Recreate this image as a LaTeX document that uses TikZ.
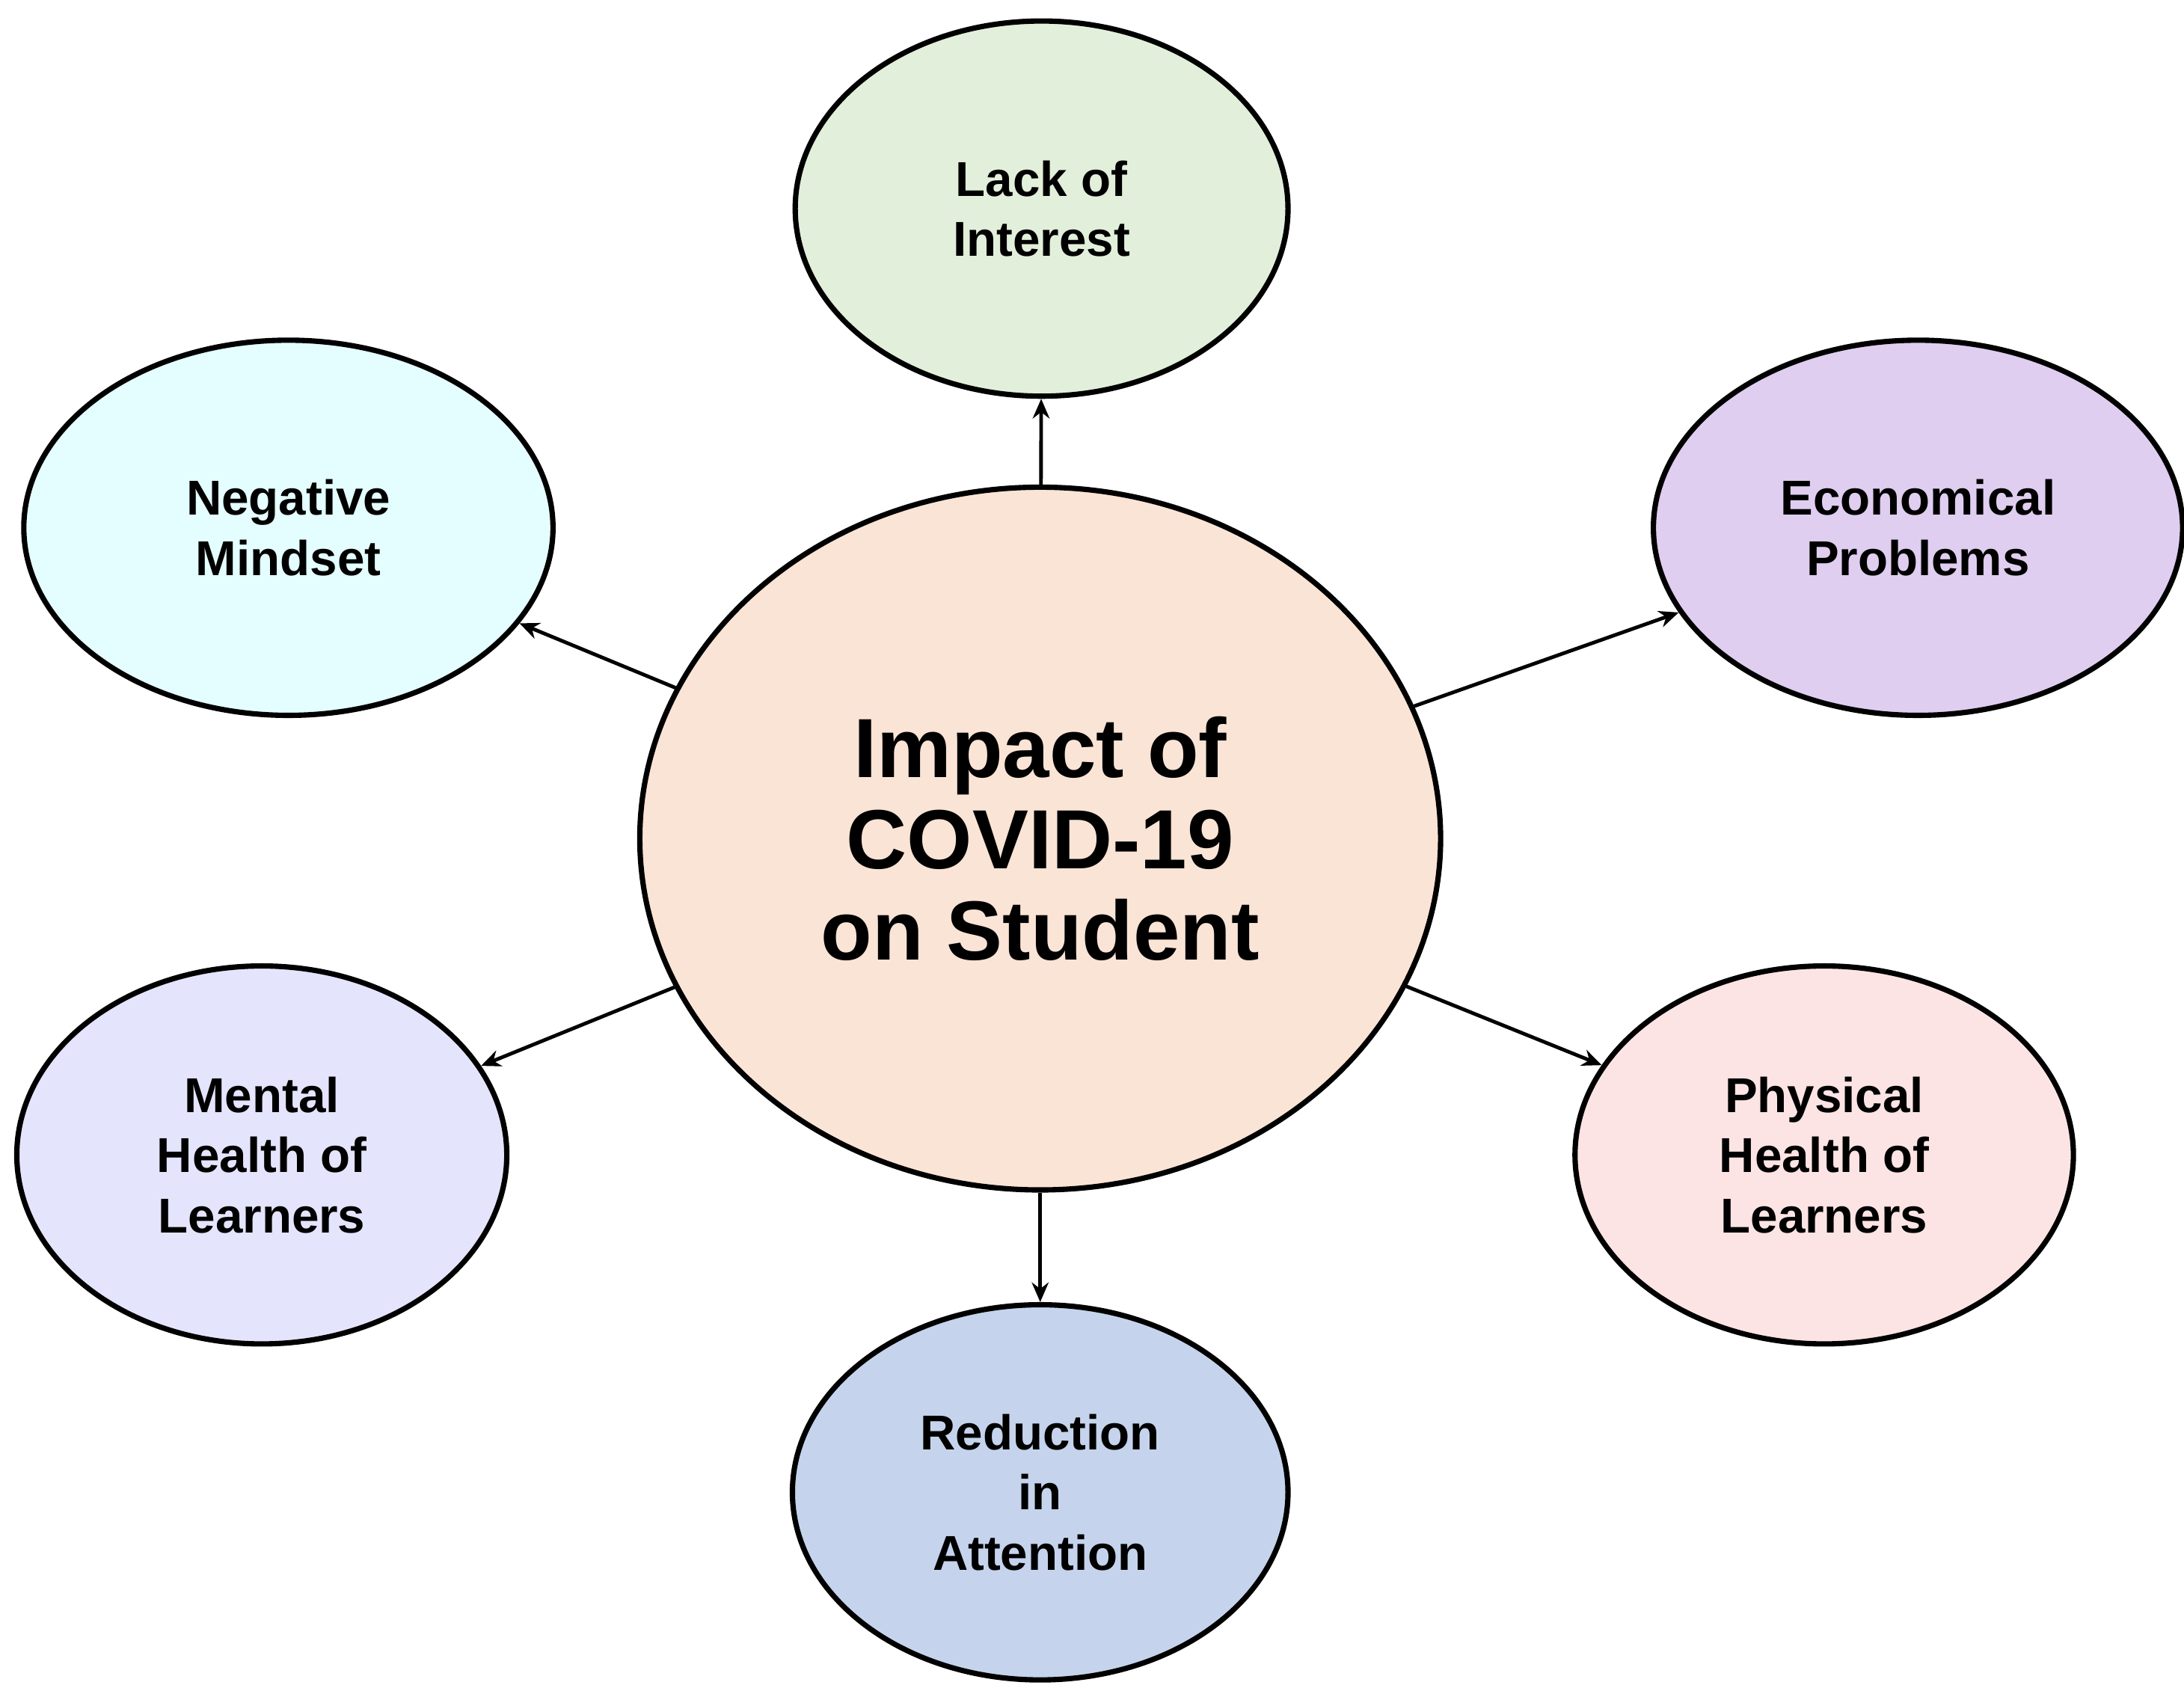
\documentclass[tikz,border=0pt]{standalone}
\usepackage{fontspec}
\setmainfont{Liberation Sans}
\usetikzlibrary{shapes.geometric,arrows.meta}
\begin{document}
\begin{tikzpicture}[x=0.5pt,y=-0.5pt,
  bub/.style={ellipse,draw=black,line width=1.9pt,inner sep=0pt,align=center,
    font=\bfseries\fontsize{17.5}{21.5}\selectfont},
  conn/.style={line width=1.3pt,-{Stealth[length=7pt,width=6pt]}}]
\useasboundingbox (0,0) rectangle (1560,1210);
\node[bub,fill={rgb,255:red,250;green,228;blue,214},minimum width=572pt*0.5,minimum height=502pt*0.5,
  font=\bfseries\fontsize{30}{32.5}\selectfont] (c) at (743,599) {Impact of\\COVID-19\\on Student};
\node[bub,fill={rgb,255:red,226;green,239;blue,218},minimum width=176pt,minimum height=134pt] (li) at (744,149) {Lack of\\Interest};
\node[bub,fill={rgb,255:red,228;green,253;blue,254},minimum width=189pt,minimum height=134pt] (nm) at (206,377) {Negative\\Mindset};
\node[bub,fill={rgb,255:red,223;green,206;blue,240},minimum width=189pt,minimum height=134pt] (ep) at (1370,377) {Economical\\Problems};
\node[bub,fill={rgb,255:red,228;green,228;blue,252},minimum width=175pt,minimum height=135pt] (mh) at (187,825) {Mental\\Health of\\Learners};
\node[bub,fill={rgb,255:red,252;green,228;blue,228},minimum width=178pt,minimum height=135pt] (ph) at (1303,825) {Physical\\Health of\\Learners};
\node[bub,fill={rgb,255:red,197;green,212;blue,236},minimum width=177pt,minimum height=134pt] (ra) at (743,1066) {Reduction\\in\\Attention};
\draw[conn] (c) -- (li);
\draw[conn] (c) -- (nm);
\draw[conn] (c) -- (ep);
\draw[conn] (c) -- (mh);
\draw[conn] (c) -- (ph);
\draw[conn] (c) -- (ra);
\end{tikzpicture}
\end{document}
